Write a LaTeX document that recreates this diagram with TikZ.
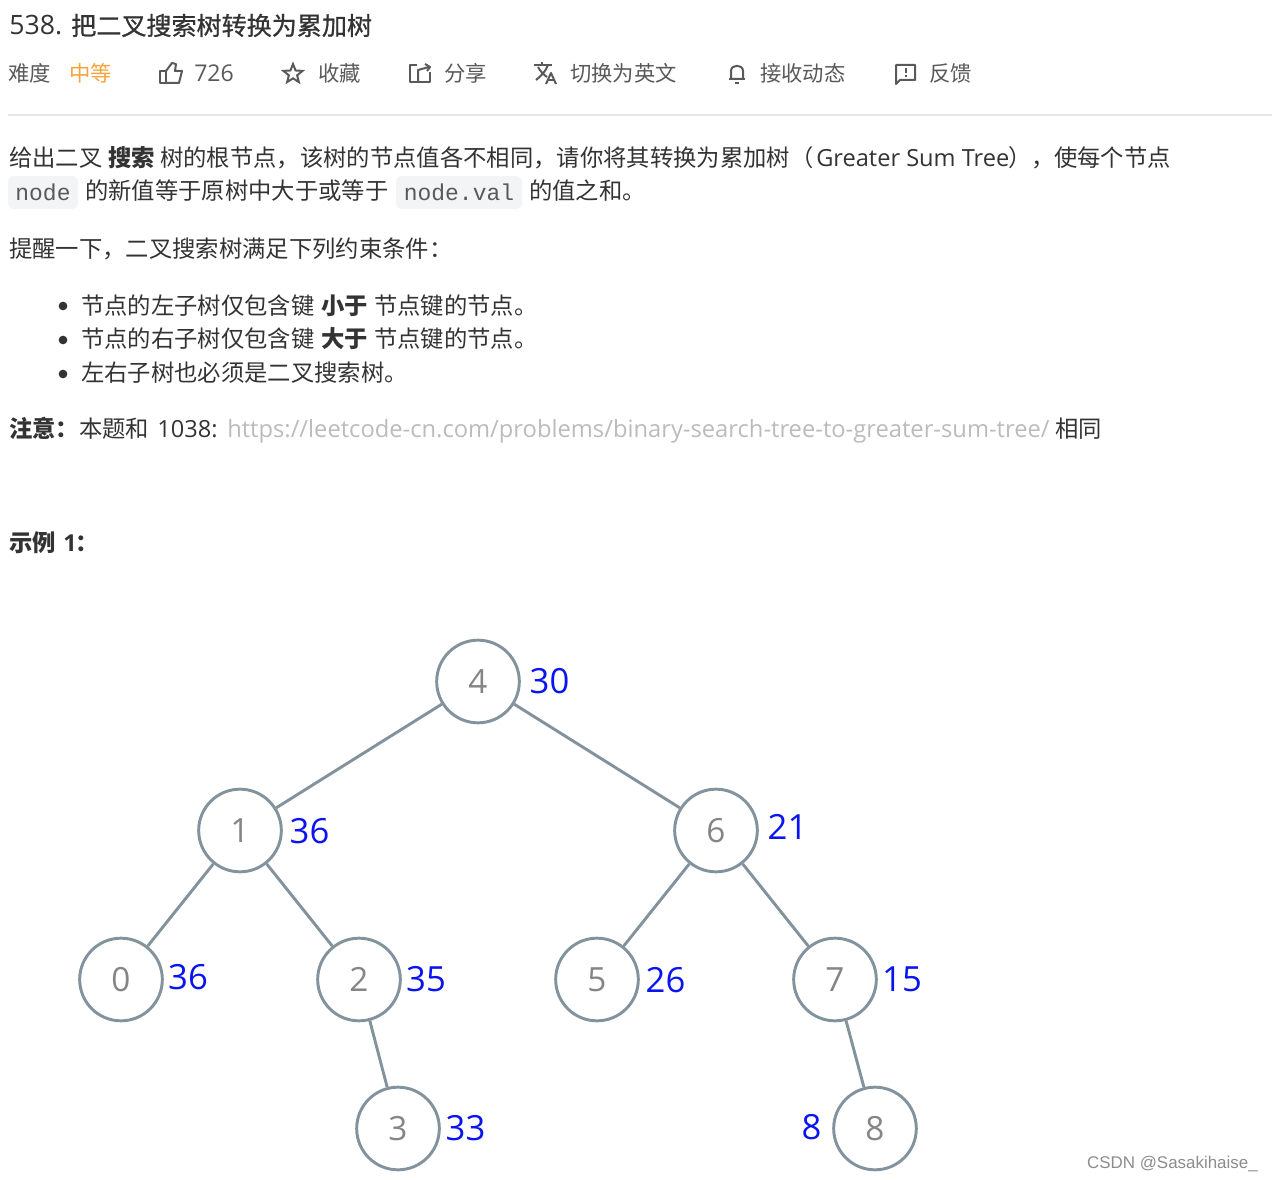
\documentclass[tikz,border=0pt]{standalone}
\usepackage{xcolor}
\usepackage{fontspec}
\usepackage{tikz}
\usetikzlibrary{shapes.geometric}
\setmainfont{Noto Sans CJK SC}
\newfontfamily\midfont[FakeBold=0.9]{Noto Sans CJK SC}
\newfontfamily\latinfont{Open Sans}
\newfontfamily\markfont{Liberation Sans}
\newfontfamily\treefont{Open Sans}
\newfontfamily\codefont{Liberation Mono}
\definecolor{inkcolor}{HTML}{333333}
\definecolor{softcolor}{HTML}{595959}
\definecolor{edgecolor}{HTML}{82939E}
\definecolor{digitcolor}{HTML}{858585}
\definecolor{sumcolor}{HTML}{0A14F0}
\definecolor{pillcolor}{HTML}{F3F4F5}
\definecolor{orangecolor}{HTML}{F5A33A}
\definecolor{linkcolor}{HTML}{BBBBBB}
\definecolor{rulecolor}{HTML}{E8E8E8}
\tikzset{
  txt/.style={anchor=base west, inner sep=0pt, text=inkcolor, font=\fontsize{17.5pt}{21pt}\selectfont},
  boldtxt/.style={txt, font=\fontsize{17.5pt}{21pt}\bfseries},
  titletxt/.style={txt, font=\fontsize{18.8pt}{22pt}\midfont},
  metatxt/.style={txt, text=softcolor, font=\fontsize{16pt}{20pt}\selectfont},
  latintxt/.style={txt, font=\fontsize{17.7pt}{21pt}\latinfont},
  codepill/.style={rectangle, rounded corners=4pt, fill=pillcolor, inner sep=0pt, minimum height=25pt, text=softcolor, font=\fontsize{17.2pt}{20pt}\codefont},
  treenode/.style={draw=edgecolor, circle, line width=2.2pt, fill=white, minimum size=62pt, inner sep=0pt, text=digitcolor, font=\fontsize{25pt}{30pt}\treefont},
  sumlabel/.style={text=sumcolor, inner sep=0pt, font=\fontsize{26pt}{30pt}\treefont},
  treeedge/.style={draw=edgecolor, line width=2.2pt},
  iconline/.style={draw=softcolor, line width=1.5pt, line join=round},
  bulletdot/.style={circle, fill=inkcolor, inner sep=0pt, minimum size=6.5pt}
}
\begin{document}
\begin{tikzpicture}[x=0.75pt, y=-0.75pt]
\useasboundingbox (0,0) rectangle (1272,1180);
% heading
\node[titletxt, font=\fontsize{20pt}{22pt}\latinfont] (num) at (9,35) {538.};
\node[titletxt] (title) at (71,35) {把二叉搜索树转换为累加树};
% toolbar
\node[metatxt] (level) at (8,82) {难度};
\node[metatxt, text=orangecolor] (medium) at (69,82) {中等};
\draw[iconline] (160,71) rectangle (166,83);
\draw[iconline] (166,71) -- (172,63) -- (176,64) -- (175,71) -- (182,71) -- (179,83) -- (166,83);
\node[metatxt, font=\fontsize{17.3pt}{20pt}\latinfont] (likes) at (194,82) {726};
\node[star, star points=5, star point ratio=2.3, draw=softcolor, line width=1.5pt, minimum size=15pt, inner sep=0pt] (fav) at (293,74) {};
\node[metatxt] (favtxt) at (318,82) {收藏};
\draw[iconline] (417,65) -- (410,65) -- (410,82) -- (430,82) -- (430,72);
\draw[iconline] (418,81) -- (418,70) -- (429,67);
\draw[iconline] (425,64) -- (430,67) -- (427,71);
\node[metatxt] (sharetxt) at (444,82) {分享};
\draw[iconline] (534,65) -- (552,65);
\draw[iconline] (542,62) -- (542,65);
\draw[iconline] (548,65) .. controls (546,71) and (541,76) .. (536,80);
\draw[iconline] (538,67) .. controls (540,71) and (544,75) .. (547,77);
\draw[iconline] (546,84) -- (551,73) -- (556,84);
\draw[iconline] (548,80) -- (554,80);
\node[metatxt] (langtxt) at (570,82) {切换为英文};
\draw[iconline] (731,79) -- (731,71) .. controls (731,64) and (743,64) .. (743,71) -- (743,79) -- cycle;
\draw[iconline] (729,79) -- (745,79);
\draw[iconline] (735,83) -- (739,83);
\node[metatxt] (belltxt) at (760,82) {接收动态};
\draw[iconline] (896,84) -- (896,65) -- (915,65) -- (915,80) -- (900,80) -- cycle;
\draw[iconline] (905.5,68) -- (905.5,73);
\draw[iconline] (905.5,75.5) -- (905.5,77.5);
\node[metatxt] (feedtxt) at (929,82) {反馈};
\coordinate (ruleleft) at (8,115);
\coordinate (ruleright) at (1272,115);
\draw[rulecolor, line width=0.9pt] (ruleleft) -- (ruleright);
% statement
\node[txt] (a1) at (9,167) {给出二叉};
\node[boldtxt] (a2) at (108,167) {搜索};
\node[txt] (a3) at (160,167) {树的根节点，该树的节点值各不相同，请你将其转换为累加树（};
\node[latintxt] (a4) at (816,167) {Greater Sum Tree};
\node[txt] (a5) at (1008,167) {），};
\node[txt] (a6) at (1054,167) {使每个节点};
\node[codepill, minimum width=52.5pt] (b1) at (43,192.5) {node};
\node[txt] (b2) at (85,200) {的新值等于原树中大于或等于};
\node[codepill, minimum width=94.5pt] (b3) at (459,192.5) {node.val};
\node[txt] (b4) at (529,200) {的值之和。};
\node[txt] (c1) at (9,258) {提醒一下，二叉搜索树满足下列约束条件：};
\node[bulletdot] (d0) at (63,306) {};
\node[txt] (d1) at (81,315) {节点的左子树仅包含键};
\node[boldtxt] (d2) at (321,315) {小于};
\node[txt] (d3) at (374,315) {节点键的节点。};
\node[bulletdot] (e0) at (63,340) {};
\node[txt] (e1) at (81,348) {节点的右子树仅包含键};
\node[boldtxt] (e2) at (321,348) {大于};
\node[txt] (e3) at (374,348) {节点键的节点。};
\node[bulletdot] (f0) at (63,374) {};
\node[txt] (f1) at (81,382) {左右子树也必须是二叉搜索树。};
\node[boldtxt] (g1) at (9,438) {注意：};
\node[txt] (g2) at (79,438) {本题和};
\node[latintxt] (g3) at (157,438) {1038:};
\node[latintxt, text=linkcolor, font=\fontsize{17.8pt}{21pt}\latinfont] (g4) at (227,438) {https://leetcode-cn.com/problems/binary-search-tree-to-greater-sum-tree/};
\node[txt] (g5) at (1055,438) {相同};
\node[boldtxt] (h1) at (9,552) {示例};
\node[latintxt, font=\fontsize{17.5pt}{21pt}\latinfont\bfseries] (h2) at (63,552) {1};
\node[boldtxt] (h3) at (75,552) {：};
% tree
\node[treenode] (n4) at (478,681.5) {\raisebox{-2pt}{4}};
\node[treenode] (n1) at (240,830.5) {\raisebox{-2pt}{1}};
\node[treenode] (n6) at (716,830.5) {\raisebox{-2pt}{6}};
\node[treenode] (n0) at (121,979.5) {\raisebox{-2pt}{0}};
\node[treenode] (n2) at (359,979.5) {\raisebox{-2pt}{2}};
\node[treenode] (n5) at (597,979.5) {\raisebox{-2pt}{5}};
\node[treenode] (n7) at (835,979.5) {\raisebox{-2pt}{7}};
\node[treenode] (n3) at (398,1128.5) {\raisebox{-2pt}{3}};
\node[treenode] (n8) at (875,1128.5) {\raisebox{-2pt}{8}};
\draw[treeedge] (n4) -- (n1);
\draw[treeedge] (n4) -- (n6);
\draw[treeedge] (n1) -- (n0);
\draw[treeedge] (n1) -- (n2);
\draw[treeedge] (n6) -- (n5);
\draw[treeedge] (n6) -- (n7);
\draw[treeedge] (n2) -- (n3);
\draw[treeedge] (n7) -- (n8);
\node[sumlabel] (s4) at (549.5,681) {30};
\node[sumlabel] (s1) at (309.5,831) {36};
\node[sumlabel] (s6) at (787.5,827) {21};
\node[sumlabel] (s0) at (188,977) {36};
\node[sumlabel] (s2) at (426,979) {35};
\node[sumlabel] (s5) at (665.5,980) {26};
\node[sumlabel] (s7) at (902,979) {15};
\node[sumlabel] (s3) at (465.5,1128) {33};
\node[sumlabel] (s8) at (811.5,1127) {8};
\node[anchor=base east, inner sep=0pt, text=black!45, font=\fontsize{12.7pt}{16pt}\markfont] (mark) at (1258,1168) {CSDN @Sasakihaise\_};
\end{tikzpicture}
\end{document}
